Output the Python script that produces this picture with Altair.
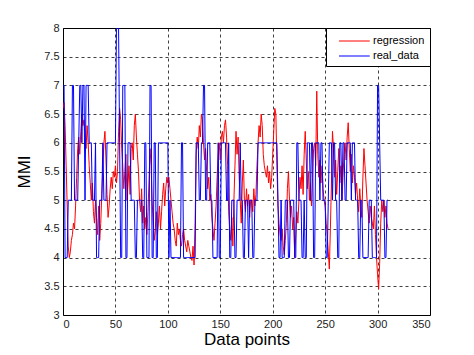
import altair as alt
import pandas as pd

# regression (red) values, x = 0..310
regression = [
    6.6, 6.7, 6.3, 5.6, 4.9, 4.2, 4.0, 4.1, 4.3, 4.4,
    4.6, 4.5, 4.9, 5.4, 5.9, 6.1, 5.8, 6.2, 6.5, 6.3,
    6.4, 6.1, 5.9, 6.3, 6.0, 5.6, 5.3, 5.0, 5.3, 4.8,
    4.6, 5.0, 4.7, 4.4, 4.9, 4.3, 4.6, 5.1, 5.6, 6.0,
    6.2, 5.7, 5.1, 4.7, 4.9, 5.2, 5.4, 5.2, 5.5, 5.4,
    5.6, 5.3, 5.5, 6.2, 6.6, 6.4, 5.9, 5.6, 5.2, 5.5,
    5.8, 5.0, 5.3, 5.6, 5.1, 5.9, 6.0, 5.7, 6.3, 6.5,
    6.1, 5.8, 5.5, 5.0, 4.8, 5.2, 4.6, 4.9, 4.5, 4.7,
    4.4, 4.8, 5.3, 5.9, 5.6, 5.0, 4.6, 4.3, 4.5, 4.8,
    4.4, 4.6, 4.9, 4.5, 4.8, 5.1, 5.3, 4.9, 5.2, 5.4,
    5.3, 5.4, 5.2, 5.0, 4.8, 4.6, 4.5, 4.3, 4.2, 4.6,
    4.4, 4.5, 4.3, 4.2, 4.4, 4.5, 4.3, 4.2, 4.1, 4.3,
    4.2, 4.1, 4.0, 3.95, 4.2, 3.87, 4.6, 5.8, 6.1, 5.9,
    6.3, 6.1, 6.5, 6.4, 6.0, 5.7, 5.9, 5.5, 5.2, 5.4,
    5.0, 5.1, 4.7, 4.5, 4.3, 4.6, 4.9, 5.4, 5.8, 6.0,
    5.7, 6.1, 6.2, 6.0, 6.3, 6.4, 6.1, 5.6, 4.8, 4.5,
    4.3, 4.7, 4.2, 5.0, 5.6, 6.2, 5.8, 6.1, 5.4, 5.0,
    4.6, 5.3, 5.7, 5.0, 4.8, 5.2, 4.9, 5.1, 4.7, 5.0,
    5.0, 4.8, 5.2, 4.9, 5.1, 5.6, 6.0, 6.3, 6.1, 6.5,
    6.3, 5.8, 5.6, 5.5, 5.4, 5.6, 5.3, 5.5, 5.2, 5.4,
    5.8, 6.2, 6.6, 6.5, 5.6, 4.9, 4.6, 4.4, 4.3, 4.5,
    4.2, 4.05, 4.3, 4.6, 5.2, 5.5, 5.0, 4.7, 4.9, 4.5,
    4.7, 4.0, 4.4, 4.8, 4.6, 5.0, 5.4, 5.2, 5.6, 5.1,
    5.8, 6.2, 5.7, 5.2, 5.5, 5.0, 5.3, 4.9, 5.4, 5.9,
    6.0, 5.6, 6.9, 5.8, 5.4, 5.7, 5.3, 5.6, 5.2, 5.0,
    4.9, 4.6, 4.4, 4.1, 3.8, 4.5, 5.3, 6.2, 5.9, 5.4,
    5.7, 5.1, 5.5, 5.9, 5.3, 5.6, 5.0, 5.4, 5.8, 6.0,
    5.7, 6.1, 6.35, 5.9, 5.5, 5.8, 5.3, 5.6, 5.4, 5.1,
    5.3, 5.0, 4.8, 5.2, 4.9, 4.7, 5.4, 5.9, 5.6, 5.3,
    5.0, 4.8, 4.6, 4.9, 4.7, 4.6, 4.5, 4.9, 4.4, 4.0,
    3.7, 3.45, 3.9, 4.6, 5.0, 4.8, 5.0, 4.7, 4.9, 4.6, 4.5,
]

# real data (blue) as run-length pairs: level and number of points
real_levels = [7, 4, 5, 7, 5, 6, 7, 6, 7, 5, 7, 6, 5, 6, 4, 5, 6, 5, 6, 8, 6, 4, 7, 4, 6,
               5, 4, 5, 4, 6, 4, 7, 4, 6, 4, 6, 4, 5, 4, 6, 4, 6, 5, 6, 7, 5, 6, 5, 4,
               6, 4, 6, 5, 6, 4, 5, 4, 5, 6, 5, 4, 5, 4, 5, 4, 5, 6, 5, 4, 5, 4, 5, 4,
               5, 4, 6, 5, 4, 5, 4, 6, 5, 6, 4, 6, 5, 6, 5, 4, 5, 6, 5, 6, 5, 4, 6, 5,
               6, 5, 6, 5, 6, 5, 4, 5, 4, 5, 4, 7, 6, 5, 4, 5]
real_runs = [2, 3, 4, 2, 4, 1, 2, 1, 2, 1, 3, 3, 3, 1, 3, 3, 1, 3, 9, 3, 1, 2, 3, 2, 3,
             4, 2, 5, 2, 2, 3, 2, 2, 2, 2, 10, 1, 1, 10, 2, 12, 3, 2, 2, 2, 2, 3, 2, 5,
             1, 2, 5, 2, 1, 2, 3, 2, 3, 1, 2, 2, 3, 1, 3, 2, 3, 19, 1, 2, 1, 3, 3, 2,
             4, 2, 2, 3, 2, 1, 2, 3, 1, 2, 2, 4, 1, 2, 3, 2, 1, 3, 1, 2, 2, 2, 2, 1,
             2, 2, 4, 1, 3, 3, 2, 2, 6, 3, 5, 2, 1, 4, 2, 2]

x_ticks = [0, 50, 100, 150, 200, 250, 300, 350]
y_ticks = [3, 3.5, 4, 4.5, 5, 5.5, 6, 6.5, 7, 7.5, 8]

real_data = []
for lvl, n in zip(real_levels, real_runs):
    real_data.extend([lvl] * n)

df_reg = pd.DataFrame({"x": list(range(len(regression))), "MMI": regression, "series": "regression"})
df_real = pd.DataFrame({"x": list(range(len(real_data))), "MMI": real_data, "series": "real_data"})

color = alt.Color(
    "series:N",
    scale=alt.Scale(domain=["regression", "real_data"], range=["#ff0000", "#0000ff"]),
    legend=alt.Legend(
        title=None, orient="none", legendX=263, legendY=0,
        symbolType="M0,0H4.1", symbolSize=225, symbolStrokeWidth=1,
        labelFont="Liberation Sans", labelFontSize=11, labelColor="black",
        strokeColor="black", fillColor="white", padding=5, rowPadding=2,
        labelOffset=26, labelLimit=80, offset=0,
    ),
)

x_enc = alt.X("x:Q", scale=alt.Scale(domain=[0, 350], nice=False),
              axis=alt.Axis(values=x_ticks, title="Data points", format="d"))
y_enc = alt.Y("MMI:Q", scale=alt.Scale(domain=[3, 8], nice=False, zero=False),
              axis=alt.Axis(values=y_ticks, title="MMI", format="~g"))

red = alt.Chart(df_reg).mark_line(strokeWidth=1, clip=True).encode(x=x_enc, y=y_enc, color=color)
blue = alt.Chart(df_real).mark_line(strokeWidth=1, clip=True).encode(x=x_enc, y=y_enc, color=color)

chart = alt.layer(red, blue).properties(
    width=367, height=287,
    autosize=alt.AutoSizeParams(type="none"),
    padding={"left": 55, "top": 20, "right": 36, "bottom": 38},
).configure_view(stroke="black", strokeWidth=1).configure_axis(
    grid=True, gridColor="black", gridDash=[3, 3], gridOpacity=0.75, gridWidth=1,
    domain=False, ticks=False,
    labelFont="Liberation Sans", labelFontSize=11, labelColor="#222",
    titleFont="Liberation Sans", titleFontSize=17, titleFontWeight="normal", titleColor="black",
    labelPadding=4,
).configure_axisX(titlePadding=2, labelPadding=3).configure_axisY(titlePadding=10)

chart.save("out.html", embed_options={"renderer": "svg", "actions": False})
